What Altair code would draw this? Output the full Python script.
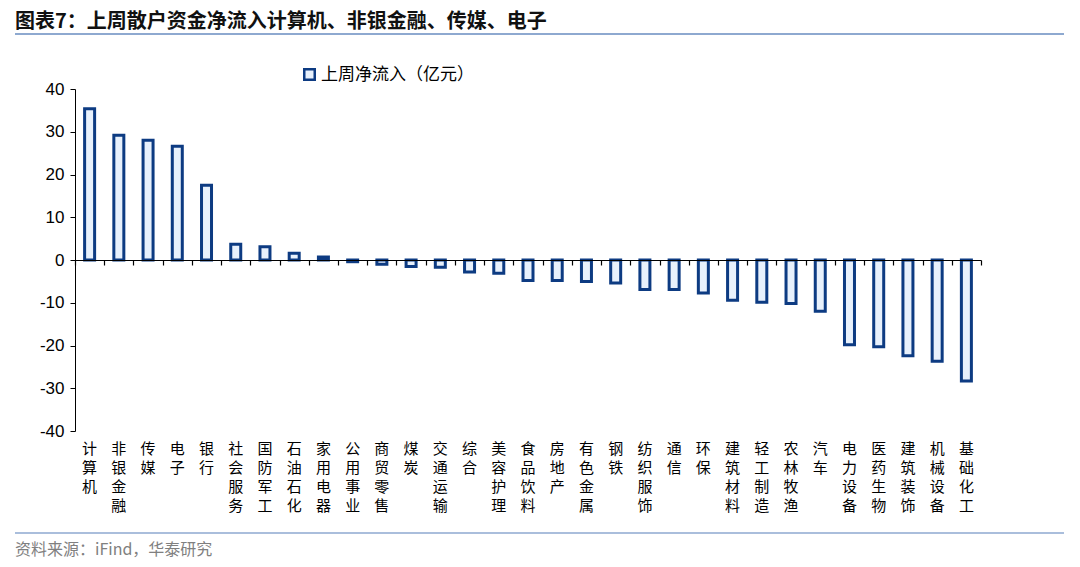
import altair as alt
import pandas as pd

# ---------------- data ----------------
categories = ["计算机", "非银金融", "传媒", "电子", "银行", "社会服务", "国防军工", "石油石化",
              "家用电器", "公用事业", "商贸零售", "煤炭", "交通运输", "综合", "美容护理", "食品饮料",
              "房地产", "有色金属", "钢铁", "纺织服饰", "通信", "环保", "建筑材料", "轻工制造",
              "农林牧渔", "汽车", "电力设备", "医药生物", "建筑装饰", "机械设备", "基础化工"]
values = [35.4, 29.2, 28.0, 26.6, 17.5, 3.7, 3.1, 1.6,
          0.7, -0.4, -1.0, -1.5, -1.7, -2.8, -3.1, -4.8,
          -4.8, -5.0, -5.4, -6.9, -6.9, -7.7, -9.4, -9.9,
          -10.2, -12.0, -19.8, -20.3, -22.4, -23.7, -28.3]
series_name = "上周净流入（亿元）"
y_ticks = [40, 30, 20, 10, 0, -10, -20, -30, -40]
title_text = "图表7：上周散户资金净流入计算机、非银金融、传媒、电子"
source_text = "资料来源：iFind，华泰研究"

df = pd.DataFrame({"industry": categories, "value": values, "series": series_name})

W, H = 906, 342
STROKE = "#0d3b82"
FILL = "#e8f1fc"
CJK = "Noto Sans CJK SC"

x_scale = alt.Scale(paddingInner=0, paddingOuter=0)
y_scale = alt.Scale(domain=[-40, 40], nice=False)

bars = alt.Chart(df).mark_bar(size=10, stroke=STROKE, strokeWidth=3).encode(
    x=alt.X("industry:N", sort=categories, scale=x_scale,
            axis=alt.Axis(orient="bottom", title=None, domain=False, ticks=False,
                          labelAngle=0, labelFont=CJK, labelFontSize=15, labelColor="#000000",
                          labelLineHeight=19, labelBaseline="top", labelPadding=10,
                          labelExpr="split(datum.label, '')")),
    y=alt.Y("value:Q", scale=y_scale,
            axis=alt.Axis(title=None, values=y_ticks, grid=False, domainColor="#000000",
                          tickColor="#000000", tickSize=5, labelFont="Liberation Sans",
                          labelFontSize=17, labelColor="#000000", labelPadding=6,
                          labelExpr="replace(datum.label, '\u2212', '-')")),
    fill=alt.Fill("series:N", scale=alt.Scale(range=[FILL]),
                  legend=alt.Legend(title=None, orient="none", legendX=226, legendY=-23,
                                    symbolType="square", symbolSize=110,
                                    symbolStrokeColor=STROKE, symbolStrokeWidth=2.5,
                                    labelFont=CJK, labelFontSize=17, labelColor="#000000",
                                    labelOffset=3)),
)

zero_axis = alt.Chart(df).mark_point(opacity=0).encode(
    x=alt.X("industry:N", sort=categories, scale=x_scale,
            axis=alt.Axis(orient="bottom", title=None, labels=False, domain=True,
                          domainColor="#000000", domainWidth=1, ticks=True, tickBand="extent",
                          tickSize=5, tickColor="#000000", tickWidth=1.2, offset=-H / 2,
                          zindex=1)),
    y=alt.Y("value:Q", scale=y_scale),
)

title_df = pd.DataFrame({"t": [title_text]})
source_df = pd.DataFrame({"t": [source_text]})

title = alt.Chart(title_df).mark_text(align="left", baseline="middle", font=CJK,
                                      fontSize=20, fontWeight="bold", color="#111111").encode(
    x=alt.value(-60), y=alt.value(-67), text="t:N")

source = alt.Chart(source_df).mark_text(align="left", baseline="middle", font=CJK,
                                        fontSize=16, color="#808080").encode(
    x=alt.value(-60), y=alt.value(461), text="t:N")

top_line = alt.Chart(title_df).mark_rule(color="#8ea9d0", strokeWidth=2).encode(
    x=alt.value(-60), x2=alt.value(989), y=alt.value(-55))
bottom_line = alt.Chart(title_df).mark_rule(color="#8ea9d0", strokeWidth=1.5).encode(
    x=alt.value(-60), x2=alt.value(989), y=alt.value(444))

chart = alt.layer(bars, zero_axis, title, source, top_line, bottom_line).resolve_axis(
    x="independent"
).properties(
    width=W, height=H, autosize="none", background="white",
    padding={"left": 67, "top": 81, "right": 90, "bottom": 128},
).configure_view(stroke=None)

chart.save("out.html", embed_options={"renderer": "svg", "actions": False})
